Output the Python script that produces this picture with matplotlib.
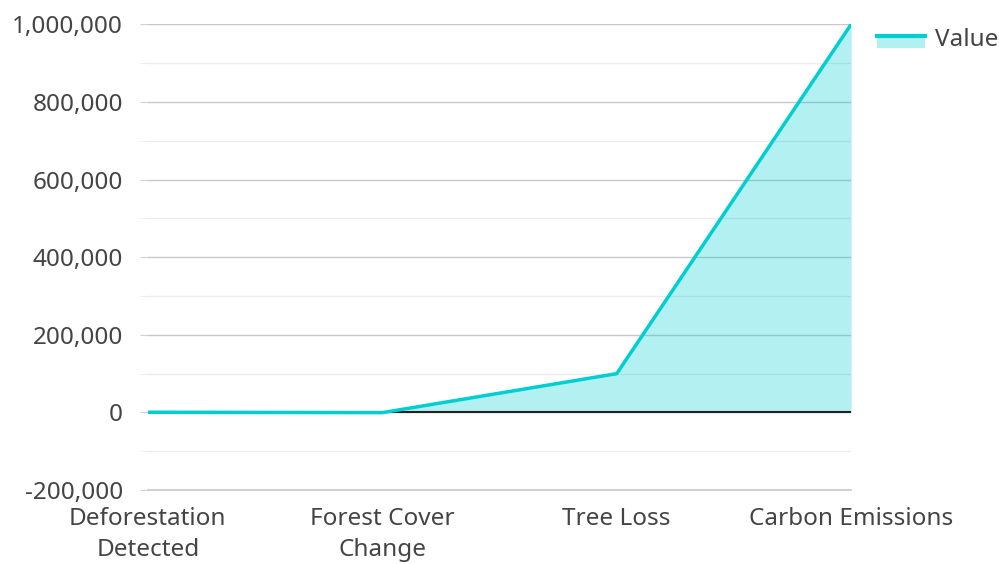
import matplotlib
matplotlib.use('Agg')
import matplotlib.pyplot as plt
from matplotlib.ticker import FuncFormatter, MultipleLocator
from matplotlib.patches import Rectangle
from matplotlib.lines import Line2D
from matplotlib.legend_handler import HandlerBase

# Data
categories = ["Deforestation\nDetected", "Forest Cover\nChange", "Tree Loss", "Carbon Emissions"]
values = [500, -500, 100000, 1000000]
series_name = "Value"

LINE = '#00CED1'
TEXT = '#444444'

plt.rcParams['font.family'] = ['Noto Sans', 'DejaVu Sans']


class AreaHandler(HandlerBase):
    """Legend key: filled block with the line along its top edge"""
    def create_artists(self, legend, orig, xd, yd, width, height, fontsize, trans):
        rect = Rectangle((xd, yd - height * 0.15), width, height * 0.75,
                         facecolor=LINE, alpha=0.3, linewidth=0, transform=trans)
        top = yd + height * 0.6
        line = Line2D([xd, xd + width], [top, top], color=LINE, linewidth=3, transform=trans)
        return [rect, line]


fig = plt.figure(figsize=(9.99, 5.64), dpi=100)
ax = fig.add_axes([0.148, 0.131, 0.704, 0.826])

x = list(range(len(categories)))
ax.fill_between(x, values, 0, color=LINE, alpha=0.3, linewidth=0, zorder=2)
ax.plot(x, values, color=LINE, linewidth=2.5, zorder=4, solid_capstyle='butt')
ax.axhline(0, color='#222222', linewidth=1.5, zorder=3)

ax.set_xlim(0, len(categories) - 1)
ax.set_ylim(-200000, 1000000)
ax.yaxis.set_major_locator(MultipleLocator(200000))
ax.yaxis.set_minor_locator(MultipleLocator(100000))
ax.yaxis.set_major_formatter(FuncFormatter(lambda v, p: f'{int(v):,}'))
ax.grid(axis='y', which='major', color='#c8c8c8', linewidth=1, zorder=0)
ax.grid(axis='y', which='minor', color='#ececec', linewidth=1, zorder=0)
ax.axhline(-200000, color='#c8c8c8', linewidth=1.2, zorder=1, clip_on=False)

ax.set_xticks(x)
ax.set_xticklabels(categories, linespacing=1.4)
for s in ax.spines.values():
    s.set_visible(False)
ax.tick_params(axis='x', length=0, pad=12, labelsize=17.5, labelcolor=TEXT)
ax.tick_params(axis='y', which='major', length=6, color='#d0d0d0', pad=12, labelsize=17.5, labelcolor=TEXT)
ax.tick_params(axis='y', which='minor', length=6, color='#e8e8e8')

leg = fig.legend([object()], [series_name], handler_map={object: AreaHandler()},
                 loc='upper left', bbox_to_anchor=(0.868, 0.968), frameon=False,
                 fontsize=17.5, handlelength=2.0, handletextpad=0.4, labelcolor=TEXT,
                 borderaxespad=0)

plt.savefig('out.png', dpi=100, facecolor='white')
